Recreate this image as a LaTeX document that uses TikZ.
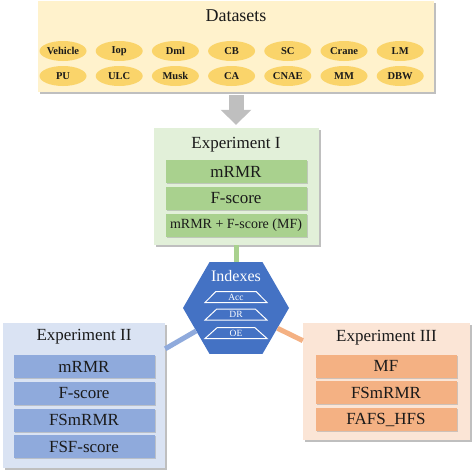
\documentclass[tikz,border=0pt]{standalone}
\usepackage{fontspec}
\IfFontExistsTF{Liberation Serif}
    {\setmainfont{Liberation Serif}}
    {\setmainfont{DejaVu Serif}}
\usetikzlibrary{arrows.meta}
\usetikzlibrary{shapes.geometric,shadows,positioning}
\definecolor{dsbg}{HTML}{FFF2CC}
\definecolor{dsgold}{HTML}{FAD46A}
\definecolor{grnbg}{HTML}{E2F0D9}
\definecolor{grnitem}{HTML}{A9D18E}
\definecolor{blubg}{HTML}{DAE3F3}
\definecolor{bluitem}{HTML}{8FAADC}
\definecolor{orgbg}{HTML}{FBE5D6}
\definecolor{orgitem}{HTML}{F4B183}
\definecolor{hexblue}{HTML}{4472C4}
\definecolor{arrowgray}{HTML}{BFBFBF}
\definecolor{ink}{HTML}{1A1A1A}

\begin{document}
\begin{tikzpicture}[
    x=1pt, y=-1pt,
    text=ink,
    font=\rmfamily,
    panel/.style={rectangle, inner sep=0pt,
                  drop shadow={shadow xshift=2pt, shadow yshift=-2pt,
                               fill=black!50, opacity=0.5}},
    item/.style={rectangle, inner sep=0pt, minimum width=141pt, minimum height=23pt,
                 font=\rmfamily\fontsize{17}{19}\selectfont,
                 drop shadow={shadow xshift=1pt, shadow yshift=-1pt,
                              fill=black!45, opacity=0.4}},
    title/.style={inner sep=0pt, font=\rmfamily\fontsize{17}{19}\selectfont},
    dset/.style={ellipse, fill=dsgold, minimum width=47pt, minimum height=20pt,
                 inner sep=0pt, font=\rmfamily\fontsize{10.5}{12}\selectfont\bfseries},
    idx/.style={trapezium, trapezium left angle=57, trapezium right angle=57,
                trapezium stretches=true, draw=white, line width=1pt,
                fill=hexblue, text=white, minimum width=62pt, minimum height=11pt,
                inner sep=0pt, font=\rmfamily\fontsize{9.5}{10}\selectfont},
    link/.style={line width=5pt},
    bigarrow/.style={-{Triangle[width=30pt,length=15pt]}, line width=15pt,
                     draw=arrowgray, shorten <=3pt, shorten >=3pt},
]
\useasboundingbox (0,0) rectangle (474,474);

\def\dx{56.2}
\def\gap{26.8}

% ── Datasets ──
\node[panel, fill=dsbg, minimum width=396pt, minimum height=91pt] (data) at (236,46.5) {};
\node[title, font=\rmfamily\fontsize{18}{20}\selectfont] (datat) at (236,16) {Datasets};
\foreach \nm [count=\i] in {Vehicle,Iop,Dml,CB,SC,Crane,LM}
    \node[dset] (da-\i) at (63+\dx*\i-\dx, 51) {\nm};
\foreach \nm [count=\i] in {PU,ULC,Musk,CA,CNAE,MM,DBW}
    \node[dset] (db-\i) at (63+\dx*\i-\dx, 76) {\nm};

% ── Experiment I ──
\node[panel, fill=grnbg, minimum width=165pt, minimum height=117pt] (e1) at (236,186.5) {};
\node[title] (e1t) at (236,145) {Experiment I};
\node[item, fill=grnitem] (e1-1) at (236,171.5) {mRMR};
\node[item, fill=grnitem] (e1-2) at (236,171.5+\gap) {F-score};
\node[item, fill=grnitem, font=\rmfamily\fontsize{14}{16}\selectfont] (e1-3) at (236,171.5+2*\gap) {mRMR + F-score (MF)};

\draw[bigarrow] (data.south) -- (e1.north);

% ── Experiment II ──
\node[panel, fill=blubg, minimum width=162pt, minimum height=145pt] (e2) at (84,395.5) {};
\node[title] (e2t) at (84,337) {Experiment II};
\foreach \nm [count=\i] in {mRMR,F-score,FSmRMR,FSF-score}
    \node[item, fill=bluitem] (e2-\i) at (84,366.5+\gap*\i-\gap) {\nm};

% ── Experiment III ──
\node[panel, fill=orgbg, minimum width=167pt, minimum height=117pt] (e3) at (386.5,381.5) {};
\node[title] (e3t) at (386.5,338) {Experiment III};
\foreach \nm [count=\i] in {MF,FSmRMR,FAFS\_HFS}
    \node[item, fill=orgitem] (e3-\i) at (386,366+\gap*\i-\gap) {\nm};

% ── Indexes ──
\node[regular polygon, regular polygon sides=6, minimum size=106pt, inner sep=0pt,
      fill=hexblue] (hex) at (236,308) {};
\draw[link, draw=grnitem] (e1) -- (hex);
\draw[link, draw=bluitem] (e2) -- (hex);
\draw[link, draw=orgitem] (e3) -- (hex);
\node[title, text=white, font=\rmfamily\fontsize{16}{18}\selectfont] (hext) at (236,276) {Indexes};
\node[idx] (acc) at (236,297) {Acc};
\node[idx] (dr) at (236,314.5) {DR};
\node[idx] (oe) at (236,333) {OE};

\end{tikzpicture}
\end{document}
